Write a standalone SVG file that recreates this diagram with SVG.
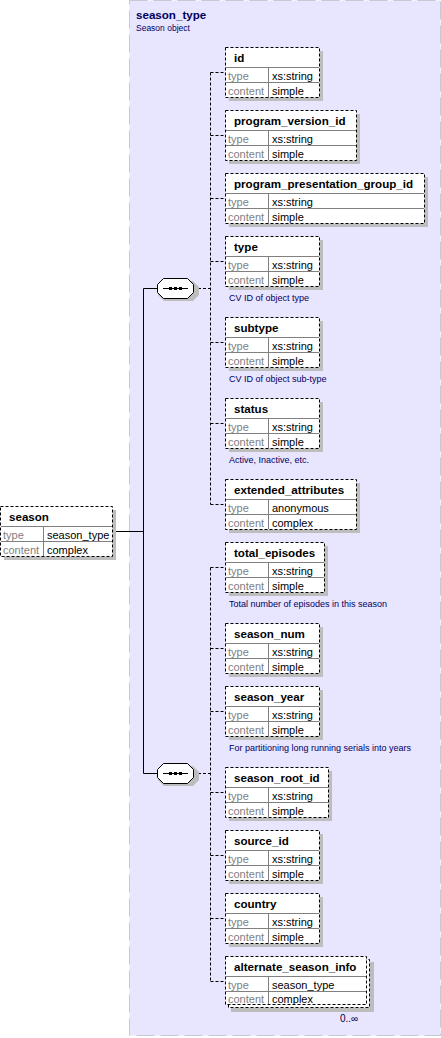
<svg xmlns="http://www.w3.org/2000/svg" width="441" height="1038" viewBox="0 0 441 1038">
<style>
.bg{fill:#E8E5FF;stroke:#C8C8D4;stroke-width:1;stroke-dasharray:18,6}
.sh{fill:#BDBDBD}
.box{fill:#FFFFFF;stroke:#000;stroke-width:1;stroke-dasharray:3,2}
.div{stroke:#808080;stroke-width:1}
.hd{font-family:"Liberation Sans",Arial,sans-serif;font-size:11.6px;font-weight:bold;fill:#000}
.lb{font-family:"Liberation Sans",Arial,sans-serif;font-size:11px;fill:#808080}
.vl{font-family:"Liberation Sans",Arial,sans-serif;font-size:11px;fill:#000}
.nt{font-family:"Liberation Sans",Arial,sans-serif;font-size:9px;fill:#000060}
.occ{font-family:"Liberation Sans",Arial,sans-serif;font-size:10px;fill:#000040}
.ttl{font-family:"Liberation Sans",Arial,sans-serif;font-size:11.6px;font-weight:bold;fill:#000060}
.sub{font-family:"Liberation Sans",Arial,sans-serif;font-size:8.5px;fill:#000060}
.solid{stroke:#000;stroke-width:1;fill:none}
.dash{stroke:#000;stroke-width:1;fill:none;stroke-dasharray:3,2}
.comp{fill:#FFFFFF;stroke:#000;stroke-width:1}
.csh{fill:#BDBDBD}
</style>
<defs>
<g id="seqicon">
<polygon class="csh" points="164,281 193,281 199,287 199,295 193,301 164,301 158,295 158,287"/>
<polygon class="comp" points="163.5,278.5 187.5,278.5 193.5,284.5 193.5,292.5 187.5,298.5 163.5,298.5 157.5,292.5 157.5,284.5"/>
<line x1="163" y1="288.5" x2="188" y2="288.5" stroke="#000" stroke-width="1"/>
<rect x="169" y="287" width="3" height="3" fill="#000"/>
<rect x="174" y="287" width="3" height="3" fill="#000"/>
<rect x="179" y="287" width="3" height="3" fill="#000"/>
</g>
</defs>

<g id="season_type">
<rect class="bg" x="129.5" y="0.5" width="311" height="1035"/>
<text class="ttl" x="136" y="19">season_type</text>
<text class="sub" x="136" y="31">Season object</text>
</g>

<g id="connectors">
<polyline class="solid" points="112,531.5 143.5,531.5"/>
<line class="solid" x1="143.5" y1="288.5" x2="143.5" y2="773.5"/>
<line class="solid" x1="143.5" y1="288.5" x2="158" y2="288.5"/>
<line class="solid" x1="143.5" y1="773.5" x2="158" y2="773.5"/>
<line class="dash" x1="193" y1="288.5" x2="210.5" y2="288.5"/>
<line class="dash" x1="193" y1="773.5" x2="210.5" y2="773.5"/>
<line class="dash" x1="210.5" y1="72.5" x2="210.5" y2="504.5"/>
<line class="dash" x1="210.5" y1="567.5" x2="210.5" y2="981.5"/>
<line class="dash" x1="210.5" y1="72.5" x2="225" y2="72.5"/>
<line class="dash" x1="210.5" y1="135.5" x2="225" y2="135.5"/>
<line class="dash" x1="210.5" y1="198.5" x2="225" y2="198.5"/>
<line class="dash" x1="210.5" y1="261.5" x2="225" y2="261.5"/>
<line class="dash" x1="210.5" y1="342.5" x2="225" y2="342.5"/>
<line class="dash" x1="210.5" y1="423.5" x2="225" y2="423.5"/>
<line class="dash" x1="210.5" y1="504.5" x2="225" y2="504.5"/>
<line class="dash" x1="210.5" y1="567.5" x2="225" y2="567.5"/>
<line class="dash" x1="210.5" y1="648.5" x2="225" y2="648.5"/>
<line class="dash" x1="210.5" y1="711.5" x2="225" y2="711.5"/>
<line class="dash" x1="210.5" y1="792.5" x2="225" y2="792.5"/>
<line class="dash" x1="210.5" y1="855.5" x2="225" y2="855.5"/>
<line class="dash" x1="210.5" y1="918.5" x2="225" y2="918.5"/>
<line class="dash" x1="210.5" y1="981.5" x2="225" y2="981.5"/>
</g>

<g id="sequence1">
<use href="#seqicon"/>
</g>
<g id="sequence2">
<use href="#seqicon" transform="translate(0,485)"/>
</g>

<g id="season">
<rect class="sh" x="4" y="510" width="112" height="50"/>
<rect class="box" x="0.5" y="506.5" width="112" height="50"/>
<line class="div" x1="1" y1="526.5" x2="112" y2="526.5"/>
<line class="div" x1="1" y1="541.5" x2="112" y2="541.5"/>
<line class="div" x1="43.5" y1="527" x2="43.5" y2="556"/>
<text class="hd" x="9" y="521">season</text>
<text class="lb" x="3" y="538.5">type</text>
<text class="vl" x="47" y="538.5">season_type</text>
<text class="lb" x="3" y="553.5">content</text>
<text class="vl" x="47" y="553.5">complex</text>
</g>

<g id="id">
<rect class="sh" x="229" y="51" width="94" height="50"/>
<rect class="box" x="225.5" y="47.5" width="94" height="50"/>
<line class="div" x1="226" y1="67.5" x2="319" y2="67.5"/>
<line class="div" x1="226" y1="82.5" x2="319" y2="82.5"/>
<line class="div" x1="268.5" y1="68" x2="268.5" y2="97"/>
<text class="hd" x="234" y="62">id</text>
<text class="lb" x="228" y="79.5">type</text>
<text class="vl" x="272" y="79.5">xs:string</text>
<text class="lb" x="228" y="94.5">content</text>
<text class="vl" x="272" y="94.5">simple</text>
</g>

<g id="program_version_id">
<rect class="sh" x="229" y="114" width="131" height="50"/>
<rect class="box" x="225.5" y="110.5" width="131" height="50"/>
<line class="div" x1="226" y1="130.5" x2="356" y2="130.5"/>
<line class="div" x1="226" y1="145.5" x2="356" y2="145.5"/>
<line class="div" x1="268.5" y1="131" x2="268.5" y2="160"/>
<text class="hd" x="234" y="125">program_version_id</text>
<text class="lb" x="228" y="142.5">type</text>
<text class="vl" x="272" y="142.5">xs:string</text>
<text class="lb" x="228" y="157.5">content</text>
<text class="vl" x="272" y="157.5">simple</text>
</g>

<g id="program_presentation_group_id">
<rect class="sh" x="229" y="177" width="199" height="50"/>
<rect class="box" x="225.5" y="173.5" width="199" height="50"/>
<line class="div" x1="226" y1="193.5" x2="424" y2="193.5"/>
<line class="div" x1="226" y1="208.5" x2="424" y2="208.5"/>
<line class="div" x1="268.5" y1="194" x2="268.5" y2="223"/>
<text class="hd" x="234" y="188">program_presentation_group_id</text>
<text class="lb" x="228" y="205.5">type</text>
<text class="vl" x="272" y="205.5">xs:string</text>
<text class="lb" x="228" y="220.5">content</text>
<text class="vl" x="272" y="220.5">simple</text>
</g>

<g id="type">
<rect class="sh" x="229" y="240" width="94" height="50"/>
<rect class="box" x="225.5" y="236.5" width="94" height="50"/>
<line class="div" x1="226" y1="256.5" x2="319" y2="256.5"/>
<line class="div" x1="226" y1="271.5" x2="319" y2="271.5"/>
<line class="div" x1="268.5" y1="257" x2="268.5" y2="286"/>
<text class="hd" x="234" y="251">type</text>
<text class="lb" x="228" y="268.5">type</text>
<text class="vl" x="272" y="268.5">xs:string</text>
<text class="lb" x="228" y="283.5">content</text>
<text class="vl" x="272" y="283.5">simple</text>
<text class="nt" x="229" y="301">CV ID of object type</text>
</g>

<g id="subtype">
<rect class="sh" x="229" y="321" width="94" height="50"/>
<rect class="box" x="225.5" y="317.5" width="94" height="50"/>
<line class="div" x1="226" y1="337.5" x2="319" y2="337.5"/>
<line class="div" x1="226" y1="352.5" x2="319" y2="352.5"/>
<line class="div" x1="268.5" y1="338" x2="268.5" y2="367"/>
<text class="hd" x="234" y="332">subtype</text>
<text class="lb" x="228" y="349.5">type</text>
<text class="vl" x="272" y="349.5">xs:string</text>
<text class="lb" x="228" y="364.5">content</text>
<text class="vl" x="272" y="364.5">simple</text>
<text class="nt" x="229" y="382">CV ID of object sub-type</text>
</g>

<g id="status">
<rect class="sh" x="229" y="402" width="94" height="50"/>
<rect class="box" x="225.5" y="398.5" width="94" height="50"/>
<line class="div" x1="226" y1="418.5" x2="319" y2="418.5"/>
<line class="div" x1="226" y1="433.5" x2="319" y2="433.5"/>
<line class="div" x1="268.5" y1="419" x2="268.5" y2="448"/>
<text class="hd" x="234" y="413">status</text>
<text class="lb" x="228" y="430.5">type</text>
<text class="vl" x="272" y="430.5">xs:string</text>
<text class="lb" x="228" y="445.5">content</text>
<text class="vl" x="272" y="445.5">simple</text>
<text class="nt" x="229" y="463">Active, Inactive, etc.</text>
</g>

<g id="extended_attributes">
<rect class="sh" x="229" y="483" width="131" height="50"/>
<rect class="box" x="225.5" y="479.5" width="131" height="50"/>
<line class="div" x1="226" y1="499.5" x2="356" y2="499.5"/>
<line class="div" x1="226" y1="514.5" x2="356" y2="514.5"/>
<line class="div" x1="268.5" y1="500" x2="268.5" y2="529"/>
<text class="hd" x="234" y="494">extended_attributes</text>
<text class="lb" x="228" y="511.5">type</text>
<text class="vl" x="272" y="511.5">anonymous</text>
<text class="lb" x="228" y="526.5">content</text>
<text class="vl" x="272" y="526.5">complex</text>
</g>

<g id="total_episodes">
<rect class="sh" x="229" y="546" width="99" height="50"/>
<rect class="box" x="225.5" y="542.5" width="99" height="50"/>
<line class="div" x1="226" y1="562.5" x2="324" y2="562.5"/>
<line class="div" x1="226" y1="577.5" x2="324" y2="577.5"/>
<line class="div" x1="268.5" y1="563" x2="268.5" y2="592"/>
<text class="hd" x="234" y="557">total_episodes</text>
<text class="lb" x="228" y="574.5">type</text>
<text class="vl" x="272" y="574.5">xs:string</text>
<text class="lb" x="228" y="589.5">content</text>
<text class="vl" x="272" y="589.5">simple</text>
<text class="nt" x="229" y="607">Total number of episodes in this season</text>
</g>

<g id="season_num">
<rect class="sh" x="229" y="627" width="94" height="50"/>
<rect class="box" x="225.5" y="623.5" width="94" height="50"/>
<line class="div" x1="226" y1="643.5" x2="319" y2="643.5"/>
<line class="div" x1="226" y1="658.5" x2="319" y2="658.5"/>
<line class="div" x1="268.5" y1="644" x2="268.5" y2="673"/>
<text class="hd" x="234" y="638">season_num</text>
<text class="lb" x="228" y="655.5">type</text>
<text class="vl" x="272" y="655.5">xs:string</text>
<text class="lb" x="228" y="670.5">content</text>
<text class="vl" x="272" y="670.5">simple</text>
</g>

<g id="season_year">
<rect class="sh" x="229" y="690" width="94" height="50"/>
<rect class="box" x="225.5" y="686.5" width="94" height="50"/>
<line class="div" x1="226" y1="706.5" x2="319" y2="706.5"/>
<line class="div" x1="226" y1="721.5" x2="319" y2="721.5"/>
<line class="div" x1="268.5" y1="707" x2="268.5" y2="736"/>
<text class="hd" x="234" y="701">season_year</text>
<text class="lb" x="228" y="718.5">type</text>
<text class="vl" x="272" y="718.5">xs:string</text>
<text class="lb" x="228" y="733.5">content</text>
<text class="vl" x="272" y="733.5">simple</text>
<text class="nt" x="229" y="751">For partitioning long running serials into years</text>
</g>

<g id="season_root_id">
<rect class="sh" x="229" y="771" width="103" height="50"/>
<rect class="box" x="225.5" y="767.5" width="103" height="50"/>
<line class="div" x1="226" y1="787.5" x2="328" y2="787.5"/>
<line class="div" x1="226" y1="802.5" x2="328" y2="802.5"/>
<line class="div" x1="268.5" y1="788" x2="268.5" y2="817"/>
<text class="hd" x="234" y="782">season_root_id</text>
<text class="lb" x="228" y="799.5">type</text>
<text class="vl" x="272" y="799.5">xs:string</text>
<text class="lb" x="228" y="814.5">content</text>
<text class="vl" x="272" y="814.5">simple</text>
</g>

<g id="source_id">
<rect class="sh" x="229" y="834" width="94" height="50"/>
<rect class="box" x="225.5" y="830.5" width="94" height="50"/>
<line class="div" x1="226" y1="850.5" x2="319" y2="850.5"/>
<line class="div" x1="226" y1="865.5" x2="319" y2="865.5"/>
<line class="div" x1="268.5" y1="851" x2="268.5" y2="880"/>
<text class="hd" x="234" y="845">source_id</text>
<text class="lb" x="228" y="862.5">type</text>
<text class="vl" x="272" y="862.5">xs:string</text>
<text class="lb" x="228" y="877.5">content</text>
<text class="vl" x="272" y="877.5">simple</text>
</g>

<g id="country">
<rect class="sh" x="229" y="897" width="94" height="50"/>
<rect class="box" x="225.5" y="893.5" width="94" height="50"/>
<line class="div" x1="226" y1="913.5" x2="319" y2="913.5"/>
<line class="div" x1="226" y1="928.5" x2="319" y2="928.5"/>
<line class="div" x1="268.5" y1="914" x2="268.5" y2="943"/>
<text class="hd" x="234" y="908">country</text>
<text class="lb" x="228" y="925.5">type</text>
<text class="vl" x="272" y="925.5">xs:string</text>
<text class="lb" x="228" y="940.5">content</text>
<text class="vl" x="272" y="940.5">simple</text>
</g>

<g id="alternate_season_info">
<rect class="sh" x="231" y="962" width="143" height="50"/>
<rect class="box" x="228.5" y="959.5" width="141" height="48"/>
<rect class="box" x="225.5" y="956.5" width="141" height="48"/>
<line class="div" x1="226" y1="976.5" x2="366" y2="976.5"/>
<line class="div" x1="226" y1="991.5" x2="366" y2="991.5"/>
<line class="div" x1="268.5" y1="977" x2="268.5" y2="1004"/>
<text class="hd" x="234" y="971">alternate_season_info</text>
<text class="lb" x="228" y="988.5">type</text>
<text class="vl" x="272" y="988.5">season_type</text>
<text class="lb" x="228" y="1002.5">content</text>
<text class="vl" x="272" y="1002.5">complex</text>
<text class="occ" x="340" y="1022">0..∞</text>
</g>
</svg>
